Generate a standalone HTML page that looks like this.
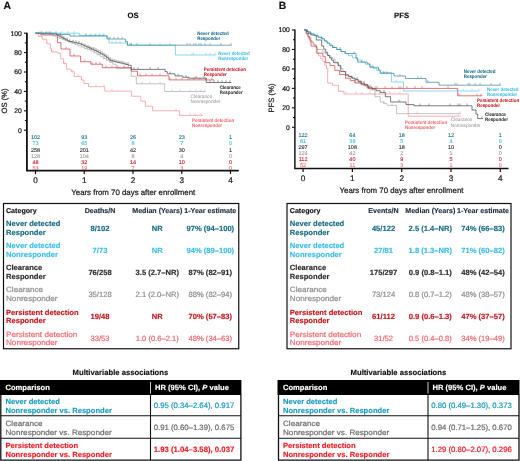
<!DOCTYPE html>
<html><head><meta charset="utf-8"><title>OS and PFS</title>
<style>
html,body{margin:0;padding:0;background:#fff;}
body{width:520px;height:461px;overflow:hidden;position:relative;font-family:"Liberation Sans", sans-serif;}
svg{position:absolute;left:0;top:0;will-change:transform;}
svg text{font-family:"Liberation Sans", sans-serif;text-rendering:geometricPrecision;}
</style></head><body>
<svg width="520" height="461" viewBox="0 0 520 461">
<path d="M26.90 32.70V170.70H238.75" fill="none" stroke="#111" stroke-width="1.80"/><path d="M23.90 130.20H26.90" stroke="#111" stroke-width="1.1"/><path d="M24.90 120.50H26.90" stroke="#111" stroke-width="1.1"/><path d="M23.90 110.80H26.90" stroke="#111" stroke-width="1.1"/><path d="M24.90 101.10H26.90" stroke="#111" stroke-width="1.1"/><path d="M23.90 91.40H26.90" stroke="#111" stroke-width="1.1"/><path d="M24.90 81.70H26.90" stroke="#111" stroke-width="1.1"/><path d="M23.90 72.00H26.90" stroke="#111" stroke-width="1.1"/><path d="M24.90 62.30H26.90" stroke="#111" stroke-width="1.1"/><path d="M23.90 52.60H26.90" stroke="#111" stroke-width="1.1"/><path d="M24.90 42.90H26.90" stroke="#111" stroke-width="1.1"/><path d="M23.90 33.20H26.90" stroke="#111" stroke-width="1.1"/><path d="M35.50 170.70V174.10" stroke="#111" stroke-width="1.2"/><path d="M84.25 170.70V174.10" stroke="#111" stroke-width="1.2"/><path d="M133.00 170.70V174.10" stroke="#111" stroke-width="1.2"/><path d="M181.75 170.70V174.10" stroke="#111" stroke-width="1.2"/><path d="M230.50 170.70V174.10" stroke="#111" stroke-width="1.2"/>
<path d="M35.30 33.00H38.20V36.30H42.20V39.20H46.80V43.80H50.30V48.50H51.50V51.90H57.20V53.10H60.70V58.80H63.60V63.50H66.50V69.20H71.10V71.80H74.30V76.50H81.50V80.00H84.00V83.50H88.50V86.70H104.60V88.30H104.80V91.10H131.50V96.20H140.80V101.20H145.40V106.20H152.60V110.80H179.50V115.40H202.70" fill="none" stroke="#f39196" stroke-width="0.7"/>
<path d="M40.00 34.00V36.30" stroke="#f39196" stroke-width="0.5"/><path d="M47.00 41.50V43.80" stroke="#f39196" stroke-width="0.5"/><path d="M52.00 49.60V51.90" stroke="#f39196" stroke-width="0.5"/><path d="M64.00 61.20V63.50" stroke="#f39196" stroke-width="0.5"/><path d="M72.00 69.50V71.80" stroke="#f39196" stroke-width="0.5"/><path d="M78.00 74.20V76.50" stroke="#f39196" stroke-width="0.5"/><path d="M96.00 84.40V86.70" stroke="#f39196" stroke-width="0.5"/><path d="M104.00 84.40V86.70" stroke="#f39196" stroke-width="0.5"/><path d="M112.00 88.80V91.10" stroke="#f39196" stroke-width="0.5"/><path d="M176.00 108.50V110.80" stroke="#f39196" stroke-width="0.5"/><path d="M190.00 113.10V115.40" stroke="#f39196" stroke-width="0.5"/><path d="M195.00 113.10V115.40" stroke="#f39196" stroke-width="0.5"/><path d="M201.00 113.10V115.40" stroke="#f39196" stroke-width="0.5"/>
<path d="M35.50 33.20H52.60V35.80H55.78V37.07H58.97V38.33H62.15V39.60H65.33V40.87H68.52V42.13H71.70V43.40H74.88V44.67H78.07V45.93H81.25V47.20H84.43V48.47H87.62V49.73H90.80V51.00H93.93V52.89H97.06V54.77H100.19V56.66H103.31V58.54H106.44V60.43H109.57V62.31H112.70V64.20H116.20V68.30H131.20V76.30H136.30V83.80H164.60V91.50H205.50" fill="none" stroke="#ababab" stroke-width="0.7"/>
<path d="M60.00 36.03V38.33" stroke="#ababab" stroke-width="0.5"/><path d="M63.00 37.30V39.60" stroke="#ababab" stroke-width="0.5"/><path d="M66.00 38.57V40.87" stroke="#ababab" stroke-width="0.5"/><path d="M69.00 39.83V42.13" stroke="#ababab" stroke-width="0.5"/><path d="M72.00 41.10V43.40" stroke="#ababab" stroke-width="0.5"/><path d="M75.00 42.37V44.67" stroke="#ababab" stroke-width="0.5"/><path d="M78.00 42.37V44.67" stroke="#ababab" stroke-width="0.5"/><path d="M81.00 43.63V45.93" stroke="#ababab" stroke-width="0.5"/><path d="M84.00 44.90V47.20" stroke="#ababab" stroke-width="0.5"/><path d="M87.00 46.17V48.47" stroke="#ababab" stroke-width="0.5"/><path d="M90.00 47.43V49.73" stroke="#ababab" stroke-width="0.5"/><path d="M95.00 50.59V52.89" stroke="#ababab" stroke-width="0.5"/><path d="M98.00 52.47V54.77" stroke="#ababab" stroke-width="0.5"/><path d="M100.00 52.47V54.77" stroke="#ababab" stroke-width="0.5"/><path d="M104.00 56.24V58.54" stroke="#ababab" stroke-width="0.5"/><path d="M107.00 58.13V60.43" stroke="#ababab" stroke-width="0.5"/><path d="M110.00 60.01V62.31" stroke="#ababab" stroke-width="0.5"/><path d="M112.00 60.01V62.31" stroke="#ababab" stroke-width="0.5"/><path d="M125.00 66.00V68.30" stroke="#ababab" stroke-width="0.5"/><path d="M142.00 81.50V83.80" stroke="#ababab" stroke-width="0.5"/><path d="M150.00 81.50V83.80" stroke="#ababab" stroke-width="0.5"/><path d="M160.00 81.50V83.80" stroke="#ababab" stroke-width="0.5"/><path d="M172.00 89.20V91.50" stroke="#ababab" stroke-width="0.5"/><path d="M180.00 89.20V91.50" stroke="#ababab" stroke-width="0.5"/><path d="M190.00 89.20V91.50" stroke="#ababab" stroke-width="0.5"/><path d="M196.00 89.20V91.50" stroke="#ababab" stroke-width="0.5"/><path d="M201.00 89.20V91.50" stroke="#ababab" stroke-width="0.5"/><path d="M205.00 89.20V91.50" stroke="#ababab" stroke-width="0.5"/>
<path d="M35.50 33.20H41.00V35.00H56.70H57.50V42.70H60.90V49.00H70.00V56.00H80.60V61.70H90.80V64.20H102.30V67.70H131.20V71.20H137.50V75.80H169.00V79.90H214.00" fill="none" stroke="#d23a3e" stroke-width="0.7"/>
<path d="M44.00 32.70V35.00" stroke="#d23a3e" stroke-width="0.5"/><path d="M50.00 32.70V35.00" stroke="#d23a3e" stroke-width="0.5"/><path d="M66.00 46.70V49.00" stroke="#d23a3e" stroke-width="0.5"/><path d="M74.00 53.70V56.00" stroke="#d23a3e" stroke-width="0.5"/><path d="M85.00 59.40V61.70" stroke="#d23a3e" stroke-width="0.5"/><path d="M92.00 61.90V64.20" stroke="#d23a3e" stroke-width="0.5"/><path d="M96.00 61.90V64.20" stroke="#d23a3e" stroke-width="0.5"/><path d="M100.00 61.90V64.20" stroke="#d23a3e" stroke-width="0.5"/><path d="M106.00 65.40V67.70" stroke="#d23a3e" stroke-width="0.5"/><path d="M112.00 65.40V67.70" stroke="#d23a3e" stroke-width="0.5"/><path d="M118.00 65.40V67.70" stroke="#d23a3e" stroke-width="0.5"/><path d="M124.00 65.40V67.70" stroke="#d23a3e" stroke-width="0.5"/><path d="M128.00 65.40V67.70" stroke="#d23a3e" stroke-width="0.5"/><path d="M140.00 73.50V75.80" stroke="#d23a3e" stroke-width="0.5"/><path d="M146.00 73.50V75.80" stroke="#d23a3e" stroke-width="0.5"/><path d="M152.00 73.50V75.80" stroke="#d23a3e" stroke-width="0.5"/><path d="M160.00 73.50V75.80" stroke="#d23a3e" stroke-width="0.5"/><path d="M170.00 77.60V79.90" stroke="#d23a3e" stroke-width="0.5"/><path d="M176.00 77.60V79.90" stroke="#d23a3e" stroke-width="0.5"/><path d="M182.00 77.60V79.90" stroke="#d23a3e" stroke-width="0.5"/><path d="M188.00 77.60V79.90" stroke="#d23a3e" stroke-width="0.5"/><path d="M194.00 77.60V79.90" stroke="#d23a3e" stroke-width="0.5"/><path d="M200.00 77.60V79.90" stroke="#d23a3e" stroke-width="0.5"/><path d="M206.00 77.60V79.90" stroke="#d23a3e" stroke-width="0.5"/><path d="M212.00 77.60V79.90" stroke="#d23a3e" stroke-width="0.5"/>
<path d="M35.50 33.20H41.70V33.80H56.50V34.80H58.72V36.04H60.94V37.28H63.16V38.52H65.38V39.76H67.60V41.00H69.92V41.56H72.24V42.12H74.56V42.68H76.88V43.24H79.20V43.80H81.67V44.90H84.14V46.00H86.61V47.10H89.09V48.20H91.56V49.30H94.03V50.40H96.50V51.50H98.53V52.67H100.55V53.85H102.57V55.03H104.60V56.20H106.53V57.73H108.47V59.27H110.40V60.80H112.70V61.35H115.00V61.90H117.30V62.45H119.60V63.00H122.50V63.75H125.40V64.50H128.30V65.25H131.20V66.00V69.40H163.00H165.15V71.60H167.30V73.80H175.00V75.90H182.90V77.30H189.00V78.20H206.20V82.50H231.40" fill="none" stroke="#444444" stroke-width="0.7"/>
<path d="M46.00 31.50V33.80" stroke="#444444" stroke-width="0.5"/><path d="M60.00 33.74V36.04" stroke="#444444" stroke-width="0.5"/><path d="M62.00 34.98V37.28" stroke="#444444" stroke-width="0.5"/><path d="M64.00 36.22V38.52" stroke="#444444" stroke-width="0.5"/><path d="M67.00 37.46V39.76" stroke="#444444" stroke-width="0.5"/><path d="M70.00 39.26V41.56" stroke="#444444" stroke-width="0.5"/><path d="M73.00 39.82V42.12" stroke="#444444" stroke-width="0.5"/><path d="M76.00 40.38V42.68" stroke="#444444" stroke-width="0.5"/><path d="M79.00 40.94V43.24" stroke="#444444" stroke-width="0.5"/><path d="M82.00 42.60V44.90" stroke="#444444" stroke-width="0.5"/><path d="M85.00 43.70V46.00" stroke="#444444" stroke-width="0.5"/><path d="M88.00 44.80V47.10" stroke="#444444" stroke-width="0.5"/><path d="M90.00 45.90V48.20" stroke="#444444" stroke-width="0.5"/><path d="M92.00 47.00V49.30" stroke="#444444" stroke-width="0.5"/><path d="M94.00 47.00V49.30" stroke="#444444" stroke-width="0.5"/><path d="M96.00 48.10V50.40" stroke="#444444" stroke-width="0.5"/><path d="M98.00 49.20V51.50" stroke="#444444" stroke-width="0.5"/><path d="M100.00 50.38V52.67" stroke="#444444" stroke-width="0.5"/><path d="M102.00 51.55V53.85" stroke="#444444" stroke-width="0.5"/><path d="M104.00 52.73V55.03" stroke="#444444" stroke-width="0.5"/><path d="M106.00 53.90V56.20" stroke="#444444" stroke-width="0.5"/><path d="M108.00 55.43V57.73" stroke="#444444" stroke-width="0.5"/><path d="M110.00 56.97V59.27" stroke="#444444" stroke-width="0.5"/><path d="M112.00 58.50V60.80" stroke="#444444" stroke-width="0.5"/><path d="M114.00 59.05V61.35" stroke="#444444" stroke-width="0.5"/><path d="M116.00 59.60V61.90" stroke="#444444" stroke-width="0.5"/><path d="M118.00 60.15V62.45" stroke="#444444" stroke-width="0.5"/><path d="M120.00 60.70V63.00" stroke="#444444" stroke-width="0.5"/><path d="M122.00 60.70V63.00" stroke="#444444" stroke-width="0.5"/><path d="M124.00 61.45V63.75" stroke="#444444" stroke-width="0.5"/><path d="M126.00 62.20V64.50" stroke="#444444" stroke-width="0.5"/><path d="M128.00 62.20V64.50" stroke="#444444" stroke-width="0.5"/><path d="M134.00 67.10V69.40" stroke="#444444" stroke-width="0.5"/><path d="M138.00 67.10V69.40" stroke="#444444" stroke-width="0.5"/><path d="M150.00 67.10V69.40" stroke="#444444" stroke-width="0.5"/><path d="M158.00 67.10V69.40" stroke="#444444" stroke-width="0.5"/><path d="M170.00 71.50V73.80" stroke="#444444" stroke-width="0.5"/><path d="M178.00 73.60V75.90" stroke="#444444" stroke-width="0.5"/><path d="M186.00 75.00V77.30" stroke="#444444" stroke-width="0.5"/><path d="M196.00 75.90V78.20" stroke="#444444" stroke-width="0.5"/><path d="M204.00 75.90V78.20" stroke="#444444" stroke-width="0.5"/><path d="M210.00 80.20V82.50" stroke="#444444" stroke-width="0.5"/><path d="M214.00 80.20V82.50" stroke="#444444" stroke-width="0.5"/><path d="M218.00 80.20V82.50" stroke="#444444" stroke-width="0.5"/><path d="M222.00 80.20V82.50" stroke="#444444" stroke-width="0.5"/><path d="M226.00 80.20V82.50" stroke="#444444" stroke-width="0.5"/><path d="M230.00 80.20V82.50" stroke="#444444" stroke-width="0.5"/>
<path d="M35.50 33.20H79.20V35.50H107.50V37.80H109.00V43.00H127.00V45.20H175.40V55.00H215.70" fill="none" stroke="#5ac6ea" stroke-width="0.7"/>
<path d="M40.00 30.90V33.20" stroke="#5ac6ea" stroke-width="0.5"/><path d="M48.00 30.90V33.20" stroke="#5ac6ea" stroke-width="0.5"/><path d="M56.00 30.90V33.20" stroke="#5ac6ea" stroke-width="0.5"/><path d="M62.00 30.90V33.20" stroke="#5ac6ea" stroke-width="0.5"/><path d="M68.00 30.90V33.20" stroke="#5ac6ea" stroke-width="0.5"/><path d="M74.00 30.90V33.20" stroke="#5ac6ea" stroke-width="0.5"/><path d="M80.00 33.20V35.50" stroke="#5ac6ea" stroke-width="0.5"/><path d="M86.00 33.20V35.50" stroke="#5ac6ea" stroke-width="0.5"/><path d="M92.00 33.20V35.50" stroke="#5ac6ea" stroke-width="0.5"/><path d="M96.00 33.20V35.50" stroke="#5ac6ea" stroke-width="0.5"/><path d="M100.00 33.20V35.50" stroke="#5ac6ea" stroke-width="0.5"/><path d="M104.00 33.20V35.50" stroke="#5ac6ea" stroke-width="0.5"/><path d="M112.00 40.70V43.00" stroke="#5ac6ea" stroke-width="0.5"/><path d="M116.00 40.70V43.00" stroke="#5ac6ea" stroke-width="0.5"/><path d="M120.00 40.70V43.00" stroke="#5ac6ea" stroke-width="0.5"/><path d="M126.00 40.70V43.00" stroke="#5ac6ea" stroke-width="0.5"/><path d="M160.00 42.90V45.20" stroke="#5ac6ea" stroke-width="0.5"/><path d="M170.00 42.90V45.20" stroke="#5ac6ea" stroke-width="0.5"/><path d="M192.00 52.70V55.00" stroke="#5ac6ea" stroke-width="0.5"/><path d="M193.50 52.70V55.00" stroke="#5ac6ea" stroke-width="0.5"/><path d="M206.00 52.70V55.00" stroke="#5ac6ea" stroke-width="0.5"/><path d="M210.00 52.70V55.00" stroke="#5ac6ea" stroke-width="0.5"/><path d="M215.00 52.70V55.00" stroke="#5ac6ea" stroke-width="0.5"/>
<path d="M35.50 33.20H57.00V34.50H70.00V36.10H106.90V39.00H125.40V41.50H127.50V45.20H231.50" fill="none" stroke="#3a8197" stroke-width="0.7"/>
<path d="M42.00 30.90V33.20" stroke="#3a8197" stroke-width="0.5"/><path d="M50.00 30.90V33.20" stroke="#3a8197" stroke-width="0.5"/><path d="M60.00 32.20V34.50" stroke="#3a8197" stroke-width="0.5"/><path d="M74.00 33.80V36.10" stroke="#3a8197" stroke-width="0.5"/><path d="M86.00 33.80V36.10" stroke="#3a8197" stroke-width="0.5"/><path d="M90.00 33.80V36.10" stroke="#3a8197" stroke-width="0.5"/><path d="M95.00 33.80V36.10" stroke="#3a8197" stroke-width="0.5"/><path d="M99.00 33.80V36.10" stroke="#3a8197" stroke-width="0.5"/><path d="M103.00 33.80V36.10" stroke="#3a8197" stroke-width="0.5"/><path d="M110.00 36.70V39.00" stroke="#3a8197" stroke-width="0.5"/><path d="M114.00 36.70V39.00" stroke="#3a8197" stroke-width="0.5"/><path d="M118.00 36.70V39.00" stroke="#3a8197" stroke-width="0.5"/><path d="M122.00 36.70V39.00" stroke="#3a8197" stroke-width="0.5"/><path d="M130.00 42.90V45.20" stroke="#3a8197" stroke-width="0.5"/><path d="M131.50 42.90V45.20" stroke="#3a8197" stroke-width="0.5"/><path d="M137.00 42.90V45.20" stroke="#3a8197" stroke-width="0.5"/><path d="M150.00 42.90V45.20" stroke="#3a8197" stroke-width="0.5"/><path d="M187.00 42.90V45.20" stroke="#3a8197" stroke-width="0.5"/><path d="M190.00 42.90V45.20" stroke="#3a8197" stroke-width="0.5"/><path d="M194.00 42.90V45.20" stroke="#3a8197" stroke-width="0.5"/><path d="M196.00 42.90V45.20" stroke="#3a8197" stroke-width="0.5"/><path d="M199.00 42.90V45.20" stroke="#3a8197" stroke-width="0.5"/><path d="M201.00 42.90V45.20" stroke="#3a8197" stroke-width="0.5"/><path d="M205.00 42.90V45.20" stroke="#3a8197" stroke-width="0.5"/><path d="M210.00 42.90V45.20" stroke="#3a8197" stroke-width="0.5"/><path d="M221.00 42.90V45.20" stroke="#3a8197" stroke-width="0.5"/><path d="M231.00 42.90V45.20" stroke="#3a8197" stroke-width="0.5"/>
<path d="M294.90 29.50V168.50H508.50" fill="none" stroke="#111" stroke-width="1.45"/><path d="M291.90 127.30H294.90" stroke="#111" stroke-width="1.1"/><path d="M292.90 117.57H294.90" stroke="#111" stroke-width="1.1"/><path d="M291.90 107.84H294.90" stroke="#111" stroke-width="1.1"/><path d="M292.90 98.11H294.90" stroke="#111" stroke-width="1.1"/><path d="M291.90 88.38H294.90" stroke="#111" stroke-width="1.1"/><path d="M292.90 78.65H294.90" stroke="#111" stroke-width="1.1"/><path d="M291.90 68.92H294.90" stroke="#111" stroke-width="1.1"/><path d="M292.90 59.19H294.90" stroke="#111" stroke-width="1.1"/><path d="M291.90 49.46H294.90" stroke="#111" stroke-width="1.1"/><path d="M292.90 39.73H294.90" stroke="#111" stroke-width="1.1"/><path d="M291.90 30.00H294.90" stroke="#111" stroke-width="1.1"/><path d="M303.10 168.50V171.90" stroke="#111" stroke-width="1.2"/><path d="M352.40 168.50V171.90" stroke="#111" stroke-width="1.2"/><path d="M401.70 168.50V171.90" stroke="#111" stroke-width="1.2"/><path d="M451.00 168.50V171.90" stroke="#111" stroke-width="1.2"/><path d="M500.30 168.50V171.90" stroke="#111" stroke-width="1.2"/>
<path d="M304.30 30.00H306.20V34.00H308.10V38.00H310.00V42.00H313.15V44.60H316.30V47.20V53.10H318.50V55.90H320.70V58.70H322.90V61.50H324.70V65.05H326.50V68.60H327.70V83.00H332.40V85.30H338.40V86.00V91.30H344.00V94.00H408.20V116.20H460.50" fill="none" stroke="#f39196" stroke-width="0.7"/>
<path d="M346.00 91.70V94.00" stroke="#f39196" stroke-width="0.5"/><path d="M356.00 91.70V94.00" stroke="#f39196" stroke-width="0.5"/><path d="M362.00 91.70V94.00" stroke="#f39196" stroke-width="0.5"/><path d="M370.00 91.70V94.00" stroke="#f39196" stroke-width="0.5"/><path d="M380.00 91.70V94.00" stroke="#f39196" stroke-width="0.5"/><path d="M390.00 91.70V94.00" stroke="#f39196" stroke-width="0.5"/><path d="M400.00 91.70V94.00" stroke="#f39196" stroke-width="0.5"/><path d="M458.00 113.90V116.20" stroke="#f39196" stroke-width="0.5"/>
<path d="M304.30 30.00H306.53V33.73H308.77V37.47H311.00V41.20H313.00V43.97H315.00V46.73H317.00V49.50H322.90V52.00H325.27V53.75H327.65V55.50H330.02V57.25H332.40V59.00H335.04V62.12H337.68V65.24H340.32V68.36H342.96V71.48H345.60V74.60H348.62V76.50H351.65V78.40H354.68V80.30H357.70V82.20H360.73V84.10H363.75V86.00H366.78V87.90H369.80V89.80H375.00V96.70H380.20V101.90H383.65V103.65H387.10V105.40H396.60V113.60H460.50" fill="none" stroke="#ababab" stroke-width="0.7"/>
<path d="M360.00 79.90V82.20" stroke="#ababab" stroke-width="0.5"/><path d="M372.00 87.50V89.80" stroke="#ababab" stroke-width="0.5"/><path d="M384.00 101.35V103.65" stroke="#ababab" stroke-width="0.5"/><path d="M392.00 103.10V105.40" stroke="#ababab" stroke-width="0.5"/><path d="M417.00 111.30V113.60" stroke="#ababab" stroke-width="0.5"/><path d="M460.00 111.30V113.60" stroke="#ababab" stroke-width="0.5"/>
<path d="M304.30 30.00H306.13V33.33H307.97V36.67H309.80V40.00H311.00V46.00H316.30V47.20H317.00V53.10H322.90V56.70H325.30V62.70H330.00V65.70H334.80V70.40H339.60V74.60H345.60V78.20H350.30V80.60H355.00V83.00H361.20V84.60H368.00V88.40H457.70V95.80H482.30" fill="none" stroke="#d23a3e" stroke-width="0.7"/>
<path d="M355.00 80.70V83.00" stroke="#d23a3e" stroke-width="0.5"/><path d="M360.00 80.70V83.00" stroke="#d23a3e" stroke-width="0.5"/><path d="M368.00 86.10V88.40" stroke="#d23a3e" stroke-width="0.5"/><path d="M375.00 86.10V88.40" stroke="#d23a3e" stroke-width="0.5"/><path d="M377.00 86.10V88.40" stroke="#d23a3e" stroke-width="0.5"/><path d="M385.00 86.10V88.40" stroke="#d23a3e" stroke-width="0.5"/><path d="M392.00 86.10V88.40" stroke="#d23a3e" stroke-width="0.5"/><path d="M399.00 86.10V88.40" stroke="#d23a3e" stroke-width="0.5"/><path d="M401.00 86.10V88.40" stroke="#d23a3e" stroke-width="0.5"/><path d="M407.00 86.10V88.40" stroke="#d23a3e" stroke-width="0.5"/><path d="M415.00 86.10V88.40" stroke="#d23a3e" stroke-width="0.5"/><path d="M422.00 86.10V88.40" stroke="#d23a3e" stroke-width="0.5"/><path d="M448.00 86.10V88.40" stroke="#d23a3e" stroke-width="0.5"/><path d="M459.00 93.50V95.80" stroke="#d23a3e" stroke-width="0.5"/><path d="M477.00 93.50V95.80" stroke="#d23a3e" stroke-width="0.5"/><path d="M481.00 93.50V95.80" stroke="#d23a3e" stroke-width="0.5"/>
<path d="M304.30 30.00H306.47V31.67H308.63V33.33H310.80V35.00H316.30V40.00H321.70V46.00H323.70V49.17H325.70V52.33H327.70V55.50H329.67V57.90H331.63V60.30H333.60V62.70H338.40V65.70H340.80V71.60H345.60V75.20H348.73V76.60H351.87V78.00H355.00V79.40H358.25V81.35H361.50V83.30H364.75V85.25H368.00V87.20H372.07V88.93H376.13V90.67H380.20V92.40H385.40V96.70H390.60V100.20V102.00H406.00V104.60H414.00V105.80H469.20H472.00V110.00H476.00V114.00H477.70V118.60H483.00" fill="none" stroke="#444444" stroke-width="0.7"/>
<path d="M352.00 75.70V78.00" stroke="#444444" stroke-width="0.5"/><path d="M357.00 77.10V79.40" stroke="#444444" stroke-width="0.5"/><path d="M364.00 81.00V83.30" stroke="#444444" stroke-width="0.5"/><path d="M370.00 84.90V87.20" stroke="#444444" stroke-width="0.5"/><path d="M384.00 90.10V92.40" stroke="#444444" stroke-width="0.5"/><path d="M399.00 99.70V102.00" stroke="#444444" stroke-width="0.5"/><path d="M420.00 103.50V105.80" stroke="#444444" stroke-width="0.5"/><path d="M429.00 103.50V105.80" stroke="#444444" stroke-width="0.5"/><path d="M450.00 103.50V105.80" stroke="#444444" stroke-width="0.5"/><path d="M458.00 103.50V105.80" stroke="#444444" stroke-width="0.5"/><path d="M460.00 103.50V105.80" stroke="#444444" stroke-width="0.5"/><path d="M467.00 103.50V105.80" stroke="#444444" stroke-width="0.5"/><path d="M482.00 116.30V118.60" stroke="#444444" stroke-width="0.5"/>
<path d="M304.30 30.00H307.55V32.00H310.80V34.00H314.43V35.60H318.07V37.20H321.70V38.80H324.40V40.97H327.10V43.15H329.80V45.33H332.50V47.50H336.50V49.56H340.50V51.62H344.50V53.68H348.50V55.74H352.50V57.80H356.82V59.95H361.15V62.10H365.48V64.25H369.80V66.40H373.27V68.43H376.73V70.47H380.20V72.50H391.40V82.00H403.60V91.00H479.20" fill="none" stroke="#5ac6ea" stroke-width="0.7"/>
<path d="M318.00 33.30V35.60" stroke="#5ac6ea" stroke-width="0.5"/><path d="M340.00 47.26V49.56" stroke="#5ac6ea" stroke-width="0.5"/><path d="M352.00 53.44V55.74" stroke="#5ac6ea" stroke-width="0.5"/><path d="M378.00 68.17V70.47" stroke="#5ac6ea" stroke-width="0.5"/><path d="M383.00 70.20V72.50" stroke="#5ac6ea" stroke-width="0.5"/><path d="M396.00 79.70V82.00" stroke="#5ac6ea" stroke-width="0.5"/><path d="M457.00 88.70V91.00" stroke="#5ac6ea" stroke-width="0.5"/><path d="M463.00 88.70V91.00" stroke="#5ac6ea" stroke-width="0.5"/><path d="M472.00 88.70V91.00" stroke="#5ac6ea" stroke-width="0.5"/><path d="M479.00 88.70V91.00" stroke="#5ac6ea" stroke-width="0.5"/>
<path d="M304.30 30.00H307.55V32.00H310.80V34.00H314.43V35.60H318.07V37.20H321.70V38.80H324.40V40.97H327.10V43.15H329.80V45.33H332.50V47.50H336.87V49.50H341.23V51.50H345.60V53.50H356.00V57.80H357.70V62.10H367.20V63.80H369.80V67.30H378.50V69.90H380.20V73.40H394.00V76.00H405.30V78.50H426.00V82.30H439.00V85.20H500.50" fill="none" stroke="#3a8197" stroke-width="0.7"/>
<path d="M322.00 36.50V38.80" stroke="#3a8197" stroke-width="0.5"/><path d="M334.00 45.20V47.50" stroke="#3a8197" stroke-width="0.5"/><path d="M340.00 47.20V49.50" stroke="#3a8197" stroke-width="0.5"/><path d="M354.00 51.20V53.50" stroke="#3a8197" stroke-width="0.5"/><path d="M362.00 59.80V62.10" stroke="#3a8197" stroke-width="0.5"/><path d="M373.00 65.00V67.30" stroke="#3a8197" stroke-width="0.5"/><path d="M384.00 71.10V73.40" stroke="#3a8197" stroke-width="0.5"/><path d="M387.00 71.10V73.40" stroke="#3a8197" stroke-width="0.5"/><path d="M400.00 73.70V76.00" stroke="#3a8197" stroke-width="0.5"/><path d="M418.00 76.20V78.50" stroke="#3a8197" stroke-width="0.5"/><path d="M421.00 76.20V78.50" stroke="#3a8197" stroke-width="0.5"/><path d="M428.00 80.00V82.30" stroke="#3a8197" stroke-width="0.5"/><path d="M455.00 82.90V85.20" stroke="#3a8197" stroke-width="0.5"/><path d="M457.00 82.90V85.20" stroke="#3a8197" stroke-width="0.5"/><path d="M468.00 82.90V85.20" stroke="#3a8197" stroke-width="0.5"/><path d="M470.00 82.90V85.20" stroke="#3a8197" stroke-width="0.5"/><path d="M475.00 82.90V85.20" stroke="#3a8197" stroke-width="0.5"/><path d="M480.00 82.90V85.20" stroke="#3a8197" stroke-width="0.5"/><path d="M491.00 82.90V85.20" stroke="#3a8197" stroke-width="0.5"/><path d="M500.00 82.90V85.20" stroke="#3a8197" stroke-width="0.5"/>
<rect x="3.50" y="203.50" width="235.25" height="145.25" fill="none" stroke="#111" stroke-width="1.2"/>
<rect x="287.00" y="203.50" width="224.00" height="145.25" fill="none" stroke="#111" stroke-width="1.2"/>
<rect x="-0.20" y="380" width="241.60" height="15" fill="#000"/>
<path d="M150.50 382V393.5" stroke="#cfcfcf" stroke-width="1"/>
<path d="M0.80 394.5V460.2H240.90V394.5" fill="none" stroke="#111" stroke-width="1.3"/>
<path d="M150.50 395V460" stroke="#111" stroke-width="1.1"/>
<path d="M0.80 415.80H240.90" stroke="#111" stroke-width="1.1"/>
<path d="M0.80 438.20H240.90" stroke="#111" stroke-width="1.1"/>
<rect x="277.50" y="380" width="242.00" height="15" fill="#000"/>
<path d="M428.00 382V393.5" stroke="#cfcfcf" stroke-width="1"/>
<path d="M278.50 394.5V460.2H519.00V394.5" fill="none" stroke="#111" stroke-width="1.3"/>
<path d="M428.00 395V460" stroke="#111" stroke-width="1.1"/>
<path d="M278.50 415.80H519.00" stroke="#111" stroke-width="1.1"/>
<path d="M278.50 438.20H519.00" stroke="#111" stroke-width="1.1"/>
<text x="21.90" y="132.60" font-size="6.80" fill="#1a1a1a" stroke="#1a1a1a" stroke-width="0.22" font-weight="normal" text-anchor="end" >0</text>
<text x="21.90" y="113.20" font-size="6.80" fill="#1a1a1a" stroke="#1a1a1a" stroke-width="0.22" font-weight="normal" text-anchor="end" >20</text>
<text x="21.90" y="93.80" font-size="6.80" fill="#1a1a1a" stroke="#1a1a1a" stroke-width="0.22" font-weight="normal" text-anchor="end" >40</text>
<text x="21.90" y="74.40" font-size="6.80" fill="#1a1a1a" stroke="#1a1a1a" stroke-width="0.22" font-weight="normal" text-anchor="end" >60</text>
<text x="21.90" y="55.00" font-size="6.80" fill="#1a1a1a" stroke="#1a1a1a" stroke-width="0.22" font-weight="normal" text-anchor="end" >80</text>
<text x="21.90" y="35.60" font-size="6.80" fill="#1a1a1a" stroke="#1a1a1a" stroke-width="0.22" font-weight="normal" text-anchor="end" >100</text>
<text x="35.50" y="183.20" font-size="8.20" fill="#1a1a1a" stroke="#1a1a1a" stroke-width="0.22" font-weight="normal" text-anchor="middle" >0</text>
<text x="84.25" y="183.20" font-size="8.20" fill="#1a1a1a" stroke="#1a1a1a" stroke-width="0.22" font-weight="normal" text-anchor="middle" >1</text>
<text x="133.00" y="183.20" font-size="8.20" fill="#1a1a1a" stroke="#1a1a1a" stroke-width="0.22" font-weight="normal" text-anchor="middle" >2</text>
<text x="181.75" y="183.20" font-size="8.20" fill="#1a1a1a" stroke="#1a1a1a" stroke-width="0.22" font-weight="normal" text-anchor="middle" >3</text>
<text x="230.50" y="183.20" font-size="8.20" fill="#1a1a1a" stroke="#1a1a1a" stroke-width="0.22" font-weight="normal" text-anchor="middle" >4</text>
<text x="133.25" y="194.80" font-size="7.85" fill="#1a1a1a" stroke="#1a1a1a" stroke-width="0.22" font-weight="normal" text-anchor="middle" >Years from 70 days after enrollment</text>
<text x="0" y="0" font-size="7.7" fill="#1a1a1a" stroke="#1a1a1a" stroke-width="0.22" text-anchor="middle" transform="translate(7.40 101.00) rotate(-90)">OS (%)</text>
<text x="133.10" y="17.80" font-size="7.70" fill="#111" stroke="#111" stroke-width="0.15" font-weight="bold" text-anchor="middle" >OS</text>
<text x="3.60" y="9.30" font-size="10.40" fill="#111" stroke="#111" stroke-width="0.15" font-weight="bold" text-anchor="start" >A</text>
<text x="35.50" y="139.10" font-size="5.50" fill="#176c85" stroke="#176c85" stroke-width="0.10" font-weight="normal" text-anchor="middle" >102</text>
<text x="84.25" y="139.10" font-size="5.50" fill="#176c85" stroke="#176c85" stroke-width="0.10" font-weight="normal" text-anchor="middle" >93</text>
<text x="133.00" y="139.10" font-size="5.50" fill="#176c85" stroke="#176c85" stroke-width="0.10" font-weight="normal" text-anchor="middle" >26</text>
<text x="181.75" y="139.10" font-size="5.50" fill="#176c85" stroke="#176c85" stroke-width="0.10" font-weight="normal" text-anchor="middle" >23</text>
<text x="230.50" y="139.10" font-size="5.50" fill="#176c85" stroke="#176c85" stroke-width="0.10" font-weight="normal" text-anchor="middle" >1</text>
<text x="35.50" y="145.20" font-size="5.50" fill="#3bbde6" stroke="#3bbde6" stroke-width="0.10" font-weight="normal" text-anchor="middle" >73</text>
<text x="84.25" y="145.20" font-size="5.50" fill="#3bbde6" stroke="#3bbde6" stroke-width="0.10" font-weight="normal" text-anchor="middle" >65</text>
<text x="133.00" y="145.20" font-size="5.50" fill="#3bbde6" stroke="#3bbde6" stroke-width="0.10" font-weight="normal" text-anchor="middle" >8</text>
<text x="181.75" y="145.20" font-size="5.50" fill="#3bbde6" stroke="#3bbde6" stroke-width="0.10" font-weight="normal" text-anchor="middle" >7</text>
<text x="230.50" y="145.20" font-size="5.50" fill="#3bbde6" stroke="#3bbde6" stroke-width="0.10" font-weight="normal" text-anchor="middle" >0</text>
<text x="35.50" y="151.50" font-size="5.50" fill="#2b2b2b" stroke="#2b2b2b" stroke-width="0.10" font-weight="normal" text-anchor="middle" >258</text>
<text x="84.25" y="151.50" font-size="5.50" fill="#2b2b2b" stroke="#2b2b2b" stroke-width="0.10" font-weight="normal" text-anchor="middle" >201</text>
<text x="133.00" y="151.50" font-size="5.50" fill="#2b2b2b" stroke="#2b2b2b" stroke-width="0.10" font-weight="normal" text-anchor="middle" >42</text>
<text x="181.75" y="151.50" font-size="5.50" fill="#2b2b2b" stroke="#2b2b2b" stroke-width="0.10" font-weight="normal" text-anchor="middle" >30</text>
<text x="230.50" y="151.50" font-size="5.50" fill="#2b2b2b" stroke="#2b2b2b" stroke-width="0.10" font-weight="normal" text-anchor="middle" >1</text>
<text x="35.50" y="157.80" font-size="5.50" fill="#9a9a9a" stroke="#9a9a9a" stroke-width="0.10" font-weight="normal" text-anchor="middle" >128</text>
<text x="84.25" y="157.80" font-size="5.50" fill="#9a9a9a" stroke="#9a9a9a" stroke-width="0.10" font-weight="normal" text-anchor="middle" >104</text>
<text x="133.00" y="157.80" font-size="5.50" fill="#9a9a9a" stroke="#9a9a9a" stroke-width="0.10" font-weight="normal" text-anchor="middle" >8</text>
<text x="181.75" y="157.80" font-size="5.50" fill="#9a9a9a" stroke="#9a9a9a" stroke-width="0.10" font-weight="normal" text-anchor="middle" >4</text>
<text x="230.50" y="157.80" font-size="5.50" fill="#9a9a9a" stroke="#9a9a9a" stroke-width="0.10" font-weight="normal" text-anchor="middle" >0</text>
<text x="35.50" y="163.90" font-size="5.50" fill="#c4161c" stroke="#c4161c" stroke-width="0.10" font-weight="normal" text-anchor="middle" >48</text>
<text x="84.25" y="163.90" font-size="5.50" fill="#c4161c" stroke="#c4161c" stroke-width="0.10" font-weight="normal" text-anchor="middle" >32</text>
<text x="133.00" y="163.90" font-size="5.50" fill="#c4161c" stroke="#c4161c" stroke-width="0.10" font-weight="normal" text-anchor="middle" >14</text>
<text x="181.75" y="163.90" font-size="5.50" fill="#c4161c" stroke="#c4161c" stroke-width="0.10" font-weight="normal" text-anchor="middle" >10</text>
<text x="230.50" y="163.90" font-size="5.50" fill="#c4161c" stroke="#c4161c" stroke-width="0.10" font-weight="normal" text-anchor="middle" >0</text>
<text x="35.50" y="169.70" font-size="5.50" fill="#f16b73" stroke="#f16b73" stroke-width="0.10" font-weight="normal" text-anchor="middle" >53</text>
<text x="84.25" y="169.70" font-size="5.50" fill="#f16b73" stroke="#f16b73" stroke-width="0.10" font-weight="normal" text-anchor="middle" >19</text>
<text x="133.00" y="169.70" font-size="5.50" fill="#f16b73" stroke="#f16b73" stroke-width="0.10" font-weight="normal" text-anchor="middle" >7</text>
<text x="181.75" y="169.70" font-size="5.50" fill="#f16b73" stroke="#f16b73" stroke-width="0.10" font-weight="normal" text-anchor="middle" >3</text>
<text x="230.50" y="169.70" font-size="5.50" fill="#f16b73" stroke="#f16b73" stroke-width="0.10" font-weight="normal" text-anchor="middle" >0</text>
<text x="0" y="0" transform="translate(197.20 35.15) scale(0.900 1)" font-size="4.90" fill="#176c85" stroke="#176c85" stroke-width="0.05" font-weight="bold" text-anchor="start">Never detected</text>
<text x="0" y="0" transform="translate(197.20 40.35) scale(0.900 1)" font-size="4.90" fill="#176c85" stroke="#176c85" stroke-width="0.05" font-weight="bold" text-anchor="start">Responder</text>
<text x="0" y="0" transform="translate(218.20 54.75) scale(0.900 1)" font-size="4.90" fill="#3bbde6" stroke="#3bbde6" stroke-width="0.05" font-weight="bold" text-anchor="start">Never detected</text>
<text x="0" y="0" transform="translate(218.20 59.95) scale(0.900 1)" font-size="4.90" fill="#3bbde6" stroke="#3bbde6" stroke-width="0.05" font-weight="bold" text-anchor="start">Nonresponder</text>
<text x="0" y="0" transform="translate(203.80 70.55) scale(0.900 1)" font-size="4.90" fill="#c4161c" stroke="#c4161c" stroke-width="0.05" font-weight="bold" text-anchor="start">Persistent detection</text>
<text x="0" y="0" transform="translate(203.80 75.75) scale(0.900 1)" font-size="4.90" fill="#c4161c" stroke="#c4161c" stroke-width="0.05" font-weight="bold" text-anchor="start">Responder</text>
<text x="0" y="0" transform="translate(219.70 88.75) scale(0.900 1)" font-size="4.90" fill="#2b2b2b" stroke="#2b2b2b" stroke-width="0.05" font-weight="bold" text-anchor="start">Clearance</text>
<text x="0" y="0" transform="translate(219.70 93.95) scale(0.900 1)" font-size="4.90" fill="#2b2b2b" stroke="#2b2b2b" stroke-width="0.05" font-weight="bold" text-anchor="start">Responder</text>
<text x="0" y="0" transform="translate(190.60 98.15) scale(0.960 1)" font-size="4.90" fill="#9a9a9a" stroke="#9a9a9a" stroke-width="0.05" font-weight="normal" text-anchor="start">Clearance</text>
<text x="0" y="0" transform="translate(190.60 103.35) scale(0.960 1)" font-size="4.90" fill="#9a9a9a" stroke="#9a9a9a" stroke-width="0.05" font-weight="normal" text-anchor="start">Nonresponder</text>
<text x="0" y="0" transform="translate(192.00 121.75) scale(0.900 1)" font-size="4.90" fill="#f16b73" stroke="#f16b73" stroke-width="0.05" font-weight="bold" text-anchor="start">Persistent detection</text>
<text x="0" y="0" transform="translate(192.00 126.95) scale(0.900 1)" font-size="4.90" fill="#f16b73" stroke="#f16b73" stroke-width="0.05" font-weight="bold" text-anchor="start">Nonresponder</text>
<text x="289.90" y="129.70" font-size="6.80" fill="#1a1a1a" stroke="#1a1a1a" stroke-width="0.22" font-weight="normal" text-anchor="end" >0</text>
<text x="289.90" y="110.24" font-size="6.80" fill="#1a1a1a" stroke="#1a1a1a" stroke-width="0.22" font-weight="normal" text-anchor="end" >20</text>
<text x="289.90" y="90.78" font-size="6.80" fill="#1a1a1a" stroke="#1a1a1a" stroke-width="0.22" font-weight="normal" text-anchor="end" >40</text>
<text x="289.90" y="71.32" font-size="6.80" fill="#1a1a1a" stroke="#1a1a1a" stroke-width="0.22" font-weight="normal" text-anchor="end" >60</text>
<text x="289.90" y="51.86" font-size="6.80" fill="#1a1a1a" stroke="#1a1a1a" stroke-width="0.22" font-weight="normal" text-anchor="end" >80</text>
<text x="289.90" y="32.40" font-size="6.80" fill="#1a1a1a" stroke="#1a1a1a" stroke-width="0.22" font-weight="normal" text-anchor="end" >100</text>
<text x="303.10" y="180.60" font-size="8.20" fill="#1a1a1a" stroke="#1a1a1a" stroke-width="0.22" font-weight="normal" text-anchor="middle" >0</text>
<text x="352.40" y="180.60" font-size="8.20" fill="#1a1a1a" stroke="#1a1a1a" stroke-width="0.22" font-weight="normal" text-anchor="middle" >1</text>
<text x="401.70" y="180.60" font-size="8.20" fill="#1a1a1a" stroke="#1a1a1a" stroke-width="0.22" font-weight="normal" text-anchor="middle" >2</text>
<text x="451.00" y="180.60" font-size="8.20" fill="#1a1a1a" stroke="#1a1a1a" stroke-width="0.22" font-weight="normal" text-anchor="middle" >3</text>
<text x="500.30" y="180.60" font-size="8.20" fill="#1a1a1a" stroke="#1a1a1a" stroke-width="0.22" font-weight="normal" text-anchor="middle" >4</text>
<text x="401.50" y="193.20" font-size="7.85" fill="#1a1a1a" stroke="#1a1a1a" stroke-width="0.22" font-weight="normal" text-anchor="middle" >Years from 70 days after enrollment</text>
<text x="0" y="0" font-size="7.7" fill="#1a1a1a" stroke="#1a1a1a" stroke-width="0.22" text-anchor="middle" transform="translate(274.10 98.00) rotate(-90)">PFS (%)</text>
<text x="401.60" y="17.80" font-size="7.70" fill="#111" stroke="#111" stroke-width="0.15" font-weight="bold" text-anchor="middle" >PFS</text>
<text x="278.80" y="9.30" font-size="10.40" fill="#111" stroke="#111" stroke-width="0.15" font-weight="bold" text-anchor="start" >B</text>
<text x="303.10" y="137.00" font-size="5.50" fill="#176c85" stroke="#176c85" stroke-width="0.10" font-weight="normal" text-anchor="middle" >122</text>
<text x="352.40" y="137.00" font-size="5.50" fill="#176c85" stroke="#176c85" stroke-width="0.10" font-weight="normal" text-anchor="middle" >64</text>
<text x="401.70" y="137.00" font-size="5.50" fill="#176c85" stroke="#176c85" stroke-width="0.10" font-weight="normal" text-anchor="middle" >18</text>
<text x="451.00" y="137.00" font-size="5.50" fill="#176c85" stroke="#176c85" stroke-width="0.10" font-weight="normal" text-anchor="middle" >12</text>
<text x="500.30" y="137.00" font-size="5.50" fill="#176c85" stroke="#176c85" stroke-width="0.10" font-weight="normal" text-anchor="middle" >1</text>
<text x="303.10" y="142.90" font-size="5.50" fill="#3bbde6" stroke="#3bbde6" stroke-width="0.10" font-weight="normal" text-anchor="middle" >81</text>
<text x="352.40" y="142.90" font-size="5.50" fill="#3bbde6" stroke="#3bbde6" stroke-width="0.10" font-weight="normal" text-anchor="middle" >38</text>
<text x="401.70" y="142.90" font-size="5.50" fill="#3bbde6" stroke="#3bbde6" stroke-width="0.10" font-weight="normal" text-anchor="middle" >5</text>
<text x="451.00" y="142.90" font-size="5.50" fill="#3bbde6" stroke="#3bbde6" stroke-width="0.10" font-weight="normal" text-anchor="middle" >4</text>
<text x="500.30" y="142.90" font-size="5.50" fill="#3bbde6" stroke="#3bbde6" stroke-width="0.10" font-weight="normal" text-anchor="middle" >0</text>
<text x="303.10" y="149.00" font-size="5.50" fill="#2b2b2b" stroke="#2b2b2b" stroke-width="0.10" font-weight="normal" text-anchor="middle" >297</text>
<text x="352.40" y="149.00" font-size="5.50" fill="#2b2b2b" stroke="#2b2b2b" stroke-width="0.10" font-weight="normal" text-anchor="middle" >108</text>
<text x="401.70" y="149.00" font-size="5.50" fill="#2b2b2b" stroke="#2b2b2b" stroke-width="0.10" font-weight="normal" text-anchor="middle" >18</text>
<text x="451.00" y="149.00" font-size="5.50" fill="#2b2b2b" stroke="#2b2b2b" stroke-width="0.10" font-weight="normal" text-anchor="middle" >10</text>
<text x="500.30" y="149.00" font-size="5.50" fill="#2b2b2b" stroke="#2b2b2b" stroke-width="0.10" font-weight="normal" text-anchor="middle" >0</text>
<text x="303.10" y="155.00" font-size="5.50" fill="#9a9a9a" stroke="#9a9a9a" stroke-width="0.10" font-weight="normal" text-anchor="middle" >124</text>
<text x="352.40" y="155.00" font-size="5.50" fill="#9a9a9a" stroke="#9a9a9a" stroke-width="0.10" font-weight="normal" text-anchor="middle" >42</text>
<text x="401.70" y="155.00" font-size="5.50" fill="#9a9a9a" stroke="#9a9a9a" stroke-width="0.10" font-weight="normal" text-anchor="middle" >2</text>
<text x="451.00" y="155.00" font-size="5.50" fill="#9a9a9a" stroke="#9a9a9a" stroke-width="0.10" font-weight="normal" text-anchor="middle" >1</text>
<text x="500.30" y="155.00" font-size="5.50" fill="#9a9a9a" stroke="#9a9a9a" stroke-width="0.10" font-weight="normal" text-anchor="middle" >0</text>
<text x="303.10" y="161.10" font-size="5.50" fill="#c4161c" stroke="#c4161c" stroke-width="0.10" font-weight="normal" text-anchor="middle" >112</text>
<text x="352.40" y="161.10" font-size="5.50" fill="#c4161c" stroke="#c4161c" stroke-width="0.10" font-weight="normal" text-anchor="middle" >40</text>
<text x="401.70" y="161.10" font-size="5.50" fill="#c4161c" stroke="#c4161c" stroke-width="0.10" font-weight="normal" text-anchor="middle" >9</text>
<text x="451.00" y="161.10" font-size="5.50" fill="#c4161c" stroke="#c4161c" stroke-width="0.10" font-weight="normal" text-anchor="middle" >5</text>
<text x="500.30" y="161.10" font-size="5.50" fill="#c4161c" stroke="#c4161c" stroke-width="0.10" font-weight="normal" text-anchor="middle" >0</text>
<text x="303.10" y="167.00" font-size="5.50" fill="#f16b73" stroke="#f16b73" stroke-width="0.10" font-weight="normal" text-anchor="middle" >52</text>
<text x="352.40" y="167.00" font-size="5.50" fill="#f16b73" stroke="#f16b73" stroke-width="0.10" font-weight="normal" text-anchor="middle" >11</text>
<text x="401.70" y="167.00" font-size="5.50" fill="#f16b73" stroke="#f16b73" stroke-width="0.10" font-weight="normal" text-anchor="middle" >3</text>
<text x="451.00" y="167.00" font-size="5.50" fill="#f16b73" stroke="#f16b73" stroke-width="0.10" font-weight="normal" text-anchor="middle" >1</text>
<text x="500.30" y="167.00" font-size="5.50" fill="#f16b73" stroke="#f16b73" stroke-width="0.10" font-weight="normal" text-anchor="middle" >0</text>
<text x="0" y="0" transform="translate(463.80 73.25) scale(0.900 1)" font-size="4.90" fill="#176c85" stroke="#176c85" stroke-width="0.05" font-weight="bold" text-anchor="start">Never detected</text>
<text x="0" y="0" transform="translate(463.80 78.45) scale(0.900 1)" font-size="4.90" fill="#176c85" stroke="#176c85" stroke-width="0.05" font-weight="bold" text-anchor="start">Responder</text>
<text x="0" y="0" transform="translate(487.00 90.95) scale(0.900 1)" font-size="4.90" fill="#3bbde6" stroke="#3bbde6" stroke-width="0.05" font-weight="bold" text-anchor="start">Never detected</text>
<text x="0" y="0" transform="translate(487.00 96.15) scale(0.900 1)" font-size="4.90" fill="#3bbde6" stroke="#3bbde6" stroke-width="0.05" font-weight="bold" text-anchor="start">Nonresponder</text>
<text x="0" y="0" transform="translate(477.00 101.75) scale(0.900 1)" font-size="4.90" fill="#c4161c" stroke="#c4161c" stroke-width="0.05" font-weight="bold" text-anchor="start">Persistent detection</text>
<text x="0" y="0" transform="translate(477.00 106.95) scale(0.900 1)" font-size="4.90" fill="#c4161c" stroke="#c4161c" stroke-width="0.05" font-weight="bold" text-anchor="start">Responder</text>
<text x="0" y="0" transform="translate(485.00 115.55) scale(0.900 1)" font-size="4.90" fill="#2b2b2b" stroke="#2b2b2b" stroke-width="0.05" font-weight="bold" text-anchor="start">Clearance</text>
<text x="0" y="0" transform="translate(485.00 120.75) scale(0.900 1)" font-size="4.90" fill="#2b2b2b" stroke="#2b2b2b" stroke-width="0.05" font-weight="bold" text-anchor="start">Responder</text>
<text x="0" y="0" transform="translate(450.80 121.35) scale(0.960 1)" font-size="4.90" fill="#9a9a9a" stroke="#9a9a9a" stroke-width="0.05" font-weight="normal" text-anchor="start">Clearance</text>
<text x="0" y="0" transform="translate(450.80 126.55) scale(0.960 1)" font-size="4.90" fill="#9a9a9a" stroke="#9a9a9a" stroke-width="0.05" font-weight="normal" text-anchor="start">Nonresponder</text>
<text x="0" y="0" transform="translate(405.00 123.75) scale(0.900 1)" font-size="4.90" fill="#f16b73" stroke="#f16b73" stroke-width="0.05" font-weight="bold" text-anchor="start">Persistent detection</text>
<text x="0" y="0" transform="translate(405.00 128.95) scale(0.900 1)" font-size="4.90" fill="#f16b73" stroke="#f16b73" stroke-width="0.05" font-weight="bold" text-anchor="start">Nonresponder</text>
<text x="6.00" y="213.02" font-size="7.10" fill="#111" stroke="#111" stroke-width="0.15" font-weight="bold" text-anchor="start" >Category</text>
<text x="100.00" y="213.02" font-size="7.10" fill="#1c2c3e" stroke="#1c2c3e" stroke-width="0.15" font-weight="bold" text-anchor="middle" >Deaths/N</text>
<text x="157.30" y="213.02" font-size="7.10" fill="#1c2c3e" stroke="#1c2c3e" stroke-width="0.15" font-weight="bold" text-anchor="middle" >Median (Years)</text>
<text x="210.30" y="213.02" font-size="7.10" fill="#1c2c3e" stroke="#1c2c3e" stroke-width="0.15" font-weight="bold" text-anchor="middle" >1-Year estimate</text>
<text x="6.00" y="226.30" font-size="7.60" fill="#176c85" stroke="#176c85" stroke-width="0.15" font-weight="bold" text-anchor="start" >Never detected</text>
<text x="6.00" y="234.60" font-size="7.60" fill="#176c85" stroke="#176c85" stroke-width="0.15" font-weight="bold" text-anchor="start" >Responder</text>
<text x="100.00" y="230.70" font-size="7.60" fill="#176c85" stroke="#176c85" stroke-width="0.15" font-weight="bold" text-anchor="middle" >8/102</text>
<text x="157.30" y="230.70" font-size="7.60" fill="#176c85" stroke="#176c85" stroke-width="0.15" font-weight="bold" text-anchor="middle" >NR</text>
<text x="210.30" y="230.70" font-size="7.60" fill="#176c85" stroke="#176c85" stroke-width="0.15" font-weight="bold" text-anchor="middle" >97% (94–100)</text>
<text x="6.00" y="248.35" font-size="7.60" fill="#3bbde6" stroke="#3bbde6" stroke-width="0.15" font-weight="bold" text-anchor="start" >Never detected</text>
<text x="6.00" y="256.65" font-size="7.60" fill="#3bbde6" stroke="#3bbde6" stroke-width="0.15" font-weight="bold" text-anchor="start" >Nonresponder</text>
<text x="100.00" y="252.75" font-size="7.60" fill="#3bbde6" stroke="#3bbde6" stroke-width="0.15" font-weight="bold" text-anchor="middle" >7/73</text>
<text x="157.30" y="252.75" font-size="7.60" fill="#3bbde6" stroke="#3bbde6" stroke-width="0.15" font-weight="bold" text-anchor="middle" >NR</text>
<text x="210.30" y="252.75" font-size="7.60" fill="#3bbde6" stroke="#3bbde6" stroke-width="0.15" font-weight="bold" text-anchor="middle" >94% (89–100)</text>
<text x="6.00" y="270.40" font-size="7.60" fill="#2b2b2b" stroke="#2b2b2b" stroke-width="0.15" font-weight="bold" text-anchor="start" >Clearance</text>
<text x="6.00" y="278.70" font-size="7.60" fill="#2b2b2b" stroke="#2b2b2b" stroke-width="0.15" font-weight="bold" text-anchor="start" >Responder</text>
<text x="100.00" y="274.80" font-size="7.60" fill="#2b2b2b" stroke="#2b2b2b" stroke-width="0.15" font-weight="bold" text-anchor="middle" >76/258</text>
<text x="157.30" y="274.80" font-size="7.60" fill="#2b2b2b" stroke="#2b2b2b" stroke-width="0.15" font-weight="bold" text-anchor="middle" >3.5 (2.7–NR)</text>
<text x="210.30" y="274.80" font-size="7.60" fill="#2b2b2b" stroke="#2b2b2b" stroke-width="0.15" font-weight="bold" text-anchor="middle" >87% (82–91)</text>
<text x="0" y="0" transform="translate(6.00 292.45) scale(1.070 1)" font-size="7.60" fill="#8f8f8f" stroke="#8f8f8f" stroke-width="0.22" font-weight="normal" text-anchor="start">Clearance</text>
<text x="0" y="0" transform="translate(6.00 300.75) scale(1.070 1)" font-size="7.60" fill="#8f8f8f" stroke="#8f8f8f" stroke-width="0.22" font-weight="normal" text-anchor="start">Nonresponder</text>
<text x="100.00" y="296.85" font-size="7.60" fill="#8f8f8f" stroke="#8f8f8f" stroke-width="0.22" font-weight="normal" text-anchor="middle" >35/128</text>
<text x="157.30" y="296.85" font-size="7.60" fill="#8f8f8f" stroke="#8f8f8f" stroke-width="0.22" font-weight="normal" text-anchor="middle" >2.1 (2.0–NR)</text>
<text x="210.30" y="296.85" font-size="7.60" fill="#8f8f8f" stroke="#8f8f8f" stroke-width="0.22" font-weight="normal" text-anchor="middle" >88% (82–94)</text>
<text x="6.00" y="314.50" font-size="7.60" fill="#c4161c" stroke="#c4161c" stroke-width="0.15" font-weight="bold" text-anchor="start" >Persistent detection</text>
<text x="6.00" y="322.80" font-size="7.60" fill="#c4161c" stroke="#c4161c" stroke-width="0.15" font-weight="bold" text-anchor="start" >Responder</text>
<text x="100.00" y="318.90" font-size="7.60" fill="#c4161c" stroke="#c4161c" stroke-width="0.15" font-weight="bold" text-anchor="middle" >19/48</text>
<text x="157.30" y="318.90" font-size="7.60" fill="#c4161c" stroke="#c4161c" stroke-width="0.15" font-weight="bold" text-anchor="middle" >NR</text>
<text x="210.30" y="318.90" font-size="7.60" fill="#c4161c" stroke="#c4161c" stroke-width="0.15" font-weight="bold" text-anchor="middle" >70% (57–83)</text>
<text x="0" y="0" transform="translate(6.00 336.55) scale(1.070 1)" font-size="7.60" fill="#f16b73" stroke="#f16b73" stroke-width="0.22" font-weight="normal" text-anchor="start">Persistent detection</text>
<text x="0" y="0" transform="translate(6.00 344.85) scale(1.070 1)" font-size="7.60" fill="#f16b73" stroke="#f16b73" stroke-width="0.22" font-weight="normal" text-anchor="start">Nonresponder</text>
<text x="100.00" y="340.95" font-size="7.60" fill="#f16b73" stroke="#f16b73" stroke-width="0.22" font-weight="normal" text-anchor="middle" >33/53</text>
<text x="157.30" y="340.95" font-size="7.60" fill="#f16b73" stroke="#f16b73" stroke-width="0.22" font-weight="normal" text-anchor="middle" >1.0 (0.6–2.1)</text>
<text x="210.30" y="340.95" font-size="7.60" fill="#f16b73" stroke="#f16b73" stroke-width="0.22" font-weight="normal" text-anchor="middle" >48% (34–63)</text>
<text x="289.80" y="213.02" font-size="7.10" fill="#111" stroke="#111" stroke-width="0.15" font-weight="bold" text-anchor="start" >Category</text>
<text x="383.50" y="213.02" font-size="7.10" fill="#1c2c3e" stroke="#1c2c3e" stroke-width="0.15" font-weight="bold" text-anchor="middle" >Events/N</text>
<text x="430.30" y="213.02" font-size="7.10" fill="#1c2c3e" stroke="#1c2c3e" stroke-width="0.15" font-weight="bold" text-anchor="middle" >Median (Years)</text>
<text x="483.00" y="213.02" font-size="7.10" fill="#1c2c3e" stroke="#1c2c3e" stroke-width="0.15" font-weight="bold" text-anchor="middle" >1-Year estimate</text>
<text x="289.80" y="226.30" font-size="7.60" fill="#176c85" stroke="#176c85" stroke-width="0.15" font-weight="bold" text-anchor="start" >Never detected</text>
<text x="289.80" y="234.60" font-size="7.60" fill="#176c85" stroke="#176c85" stroke-width="0.15" font-weight="bold" text-anchor="start" >Responder</text>
<text x="383.50" y="230.70" font-size="7.60" fill="#176c85" stroke="#176c85" stroke-width="0.15" font-weight="bold" text-anchor="middle" >45/122</text>
<text x="430.30" y="230.70" font-size="7.60" fill="#176c85" stroke="#176c85" stroke-width="0.15" font-weight="bold" text-anchor="middle" >2.5 (1.4–NR)</text>
<text x="483.00" y="230.70" font-size="7.60" fill="#176c85" stroke="#176c85" stroke-width="0.15" font-weight="bold" text-anchor="middle" >74% (66–83)</text>
<text x="289.80" y="248.35" font-size="7.60" fill="#3bbde6" stroke="#3bbde6" stroke-width="0.15" font-weight="bold" text-anchor="start" >Never detected</text>
<text x="289.80" y="256.65" font-size="7.60" fill="#3bbde6" stroke="#3bbde6" stroke-width="0.15" font-weight="bold" text-anchor="start" >Nonresponder</text>
<text x="383.50" y="252.75" font-size="7.60" fill="#3bbde6" stroke="#3bbde6" stroke-width="0.15" font-weight="bold" text-anchor="middle" >27/81</text>
<text x="430.30" y="252.75" font-size="7.60" fill="#3bbde6" stroke="#3bbde6" stroke-width="0.15" font-weight="bold" text-anchor="middle" >1.8 (1.3–NR)</text>
<text x="483.00" y="252.75" font-size="7.60" fill="#3bbde6" stroke="#3bbde6" stroke-width="0.15" font-weight="bold" text-anchor="middle" >71% (60–82)</text>
<text x="289.80" y="270.40" font-size="7.60" fill="#2b2b2b" stroke="#2b2b2b" stroke-width="0.15" font-weight="bold" text-anchor="start" >Clearance</text>
<text x="289.80" y="278.70" font-size="7.60" fill="#2b2b2b" stroke="#2b2b2b" stroke-width="0.15" font-weight="bold" text-anchor="start" >Responder</text>
<text x="383.50" y="274.80" font-size="7.60" fill="#2b2b2b" stroke="#2b2b2b" stroke-width="0.15" font-weight="bold" text-anchor="middle" >175/297</text>
<text x="430.30" y="274.80" font-size="7.60" fill="#2b2b2b" stroke="#2b2b2b" stroke-width="0.15" font-weight="bold" text-anchor="middle" >0.9 (0.8–1.1)</text>
<text x="483.00" y="274.80" font-size="7.60" fill="#2b2b2b" stroke="#2b2b2b" stroke-width="0.15" font-weight="bold" text-anchor="middle" >48% (42–54)</text>
<text x="0" y="0" transform="translate(289.80 292.45) scale(1.070 1)" font-size="7.60" fill="#8f8f8f" stroke="#8f8f8f" stroke-width="0.22" font-weight="normal" text-anchor="start">Clearance</text>
<text x="0" y="0" transform="translate(289.80 300.75) scale(1.070 1)" font-size="7.60" fill="#8f8f8f" stroke="#8f8f8f" stroke-width="0.22" font-weight="normal" text-anchor="start">Nonresponder</text>
<text x="383.50" y="296.85" font-size="7.60" fill="#8f8f8f" stroke="#8f8f8f" stroke-width="0.22" font-weight="normal" text-anchor="middle" >73/124</text>
<text x="430.30" y="296.85" font-size="7.60" fill="#8f8f8f" stroke="#8f8f8f" stroke-width="0.22" font-weight="normal" text-anchor="middle" >0.8 (0.7–1.2)</text>
<text x="483.00" y="296.85" font-size="7.60" fill="#8f8f8f" stroke="#8f8f8f" stroke-width="0.22" font-weight="normal" text-anchor="middle" >48% (38–57)</text>
<text x="289.80" y="314.50" font-size="7.60" fill="#c4161c" stroke="#c4161c" stroke-width="0.15" font-weight="bold" text-anchor="start" >Persistent detection</text>
<text x="289.80" y="322.80" font-size="7.60" fill="#c4161c" stroke="#c4161c" stroke-width="0.15" font-weight="bold" text-anchor="start" >Responder</text>
<text x="383.50" y="318.90" font-size="7.60" fill="#c4161c" stroke="#c4161c" stroke-width="0.15" font-weight="bold" text-anchor="middle" >61/112</text>
<text x="430.30" y="318.90" font-size="7.60" fill="#c4161c" stroke="#c4161c" stroke-width="0.15" font-weight="bold" text-anchor="middle" >0.9 (0.6–1.3)</text>
<text x="483.00" y="318.90" font-size="7.60" fill="#c4161c" stroke="#c4161c" stroke-width="0.15" font-weight="bold" text-anchor="middle" >47% (37–57)</text>
<text x="0" y="0" transform="translate(289.80 336.55) scale(1.070 1)" font-size="7.60" fill="#f16b73" stroke="#f16b73" stroke-width="0.22" font-weight="normal" text-anchor="start">Persistent detection</text>
<text x="0" y="0" transform="translate(289.80 344.85) scale(1.070 1)" font-size="7.60" fill="#f16b73" stroke="#f16b73" stroke-width="0.22" font-weight="normal" text-anchor="start">Nonresponder</text>
<text x="383.50" y="340.95" font-size="7.60" fill="#f16b73" stroke="#f16b73" stroke-width="0.22" font-weight="normal" text-anchor="middle" >31/52</text>
<text x="430.30" y="340.95" font-size="7.60" fill="#f16b73" stroke="#f16b73" stroke-width="0.22" font-weight="normal" text-anchor="middle" >0.5 (0.4–0.8)</text>
<text x="483.00" y="340.95" font-size="7.60" fill="#f16b73" stroke="#f16b73" stroke-width="0.22" font-weight="normal" text-anchor="middle" >34% (19–49)</text>
<text x="120.40" y="375.23" font-size="7.70" fill="#111" stroke="#111" stroke-width="0.15" font-weight="bold" text-anchor="middle" >Multivariable associations</text>
<text x="5.50" y="390.30" font-size="7.60" fill="#fff" stroke="#fff" stroke-width="0.15" font-weight="bold" text-anchor="start" >Comparison</text>
<text x="155.00" y="390.30" font-size="7.60" fill="#fff" stroke="#fff" stroke-width="0.15" font-weight="bold" text-anchor="start" >HR (95% CI), <tspan font-style="italic">P</tspan> value</text>
<text x="5.50" y="403.90" font-size="7.60" fill="#1b9cc2" stroke="#1b9cc2" stroke-width="0.15" font-weight="bold" text-anchor="start" >Never detected</text>
<text x="5.50" y="412.80" font-size="7.60" fill="#1b9cc2" stroke="#1b9cc2" stroke-width="0.15" font-weight="bold" text-anchor="start" >Nonresponder vs. Responder</text>
<text x="153.70" y="408.25" font-size="7.75" fill="#1b9cc2" stroke="#1b9cc2" stroke-width="0.22" font-weight="normal" text-anchor="start" >0.95 (0.34–2.64), 0.917</text>
<text x="0" y="0" transform="translate(5.50 425.90) scale(1.070 1)" font-size="7.60" fill="#6e6e6e" stroke="#6e6e6e" stroke-width="0.22" font-weight="normal" text-anchor="start">Clearance</text>
<text x="0" y="0" transform="translate(5.50 434.80) scale(1.070 1)" font-size="7.60" fill="#6e6e6e" stroke="#6e6e6e" stroke-width="0.22" font-weight="normal" text-anchor="start">Nonresponder vs. Responder</text>
<text x="153.70" y="430.25" font-size="7.75" fill="#6e6e6e" stroke="#6e6e6e" stroke-width="0.22" font-weight="normal" text-anchor="start" >0.91 (0.60–1.39), 0.675</text>
<text x="5.50" y="447.90" font-size="7.60" fill="#ee1c24" stroke="#ee1c24" stroke-width="0.15" font-weight="bold" text-anchor="start" >Persistent detection</text>
<text x="5.50" y="456.80" font-size="7.60" fill="#ee1c24" stroke="#ee1c24" stroke-width="0.15" font-weight="bold" text-anchor="start" >Nonresponder vs. Responder</text>
<text x="153.70" y="452.25" font-size="7.75" fill="#ee1c24" stroke="#ee1c24" stroke-width="0.15" font-weight="bold" text-anchor="start" >1.93 (1.04–3.58), 0.037</text>
<text x="398.40" y="375.23" font-size="7.70" fill="#111" stroke="#111" stroke-width="0.15" font-weight="bold" text-anchor="middle" >Multivariable associations</text>
<text x="283.00" y="390.30" font-size="7.60" fill="#fff" stroke="#fff" stroke-width="0.15" font-weight="bold" text-anchor="start" >Comparison</text>
<text x="432.50" y="390.30" font-size="7.60" fill="#fff" stroke="#fff" stroke-width="0.15" font-weight="bold" text-anchor="start" >HR (95% CI), <tspan font-style="italic">P</tspan> value</text>
<text x="283.00" y="403.90" font-size="7.60" fill="#1b9cc2" stroke="#1b9cc2" stroke-width="0.15" font-weight="bold" text-anchor="start" >Never detected</text>
<text x="283.00" y="412.80" font-size="7.60" fill="#1b9cc2" stroke="#1b9cc2" stroke-width="0.15" font-weight="bold" text-anchor="start" >Nonresponder vs. Responder</text>
<text x="431.20" y="408.25" font-size="7.75" fill="#1b9cc2" stroke="#1b9cc2" stroke-width="0.22" font-weight="normal" text-anchor="start" >0.80 (0.49–1.30), 0.373</text>
<text x="0" y="0" transform="translate(283.00 425.90) scale(1.070 1)" font-size="7.60" fill="#6e6e6e" stroke="#6e6e6e" stroke-width="0.22" font-weight="normal" text-anchor="start">Clearance</text>
<text x="0" y="0" transform="translate(283.00 434.80) scale(1.070 1)" font-size="7.60" fill="#6e6e6e" stroke="#6e6e6e" stroke-width="0.22" font-weight="normal" text-anchor="start">Nonresponder vs. Responder</text>
<text x="431.20" y="430.25" font-size="7.75" fill="#6e6e6e" stroke="#6e6e6e" stroke-width="0.22" font-weight="normal" text-anchor="start" >0.94 (0.71–1.25), 0.670</text>
<text x="283.00" y="447.90" font-size="7.60" fill="#ee1c24" stroke="#ee1c24" stroke-width="0.15" font-weight="bold" text-anchor="start" >Persistent detection</text>
<text x="283.00" y="456.80" font-size="7.60" fill="#ee1c24" stroke="#ee1c24" stroke-width="0.15" font-weight="bold" text-anchor="start" >Nonresponder vs. Responder</text>
<text x="431.20" y="452.25" font-size="7.75" fill="#ee1c24" stroke="#ee1c24" stroke-width="0.22" font-weight="normal" text-anchor="start" >1.29 (0.80–2.07), 0.296</text>
</svg>
</body></html>
